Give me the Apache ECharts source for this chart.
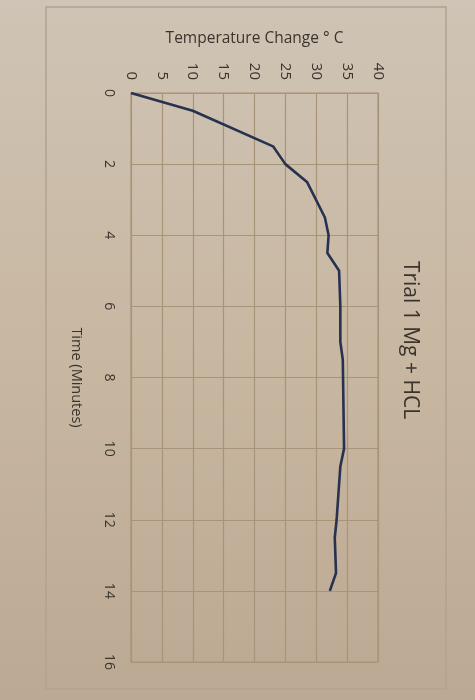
<!DOCTYPE html>
<html>
<head>
<meta charset="utf-8">
<script src="https://cdn.jsdelivr.net/npm/echarts@6/dist/echarts.min.js"></script>
<style>html,body{margin:0;padding:0;background:#c8b9a5;}#c{width:475px;height:700px;}</style>
</head>
<body>
<div id="c"></div>
<script>
// Data read from the (rotated) photo: time in minutes, temperature change in °C
const times = [0, 0.5, 1.5, 2, 2.5, 3.5, 4, 4.5, 5, 6, 7, 7.5, 10, 10.5, 12, 12.5, 13.5, 14];
const temps = [0, 10, 23, 25, 28.5, 31.4, 32, 31.8, 33.7, 33.9, 33.9, 34.3, 34.5, 33.9, 33.3, 33, 33.2, 32.2];
const chartTitle = 'Trial 1 Mg + HCL';
const tempAxisName = 'Temperature Change ° C';
const timeAxisName = 'Time (Minutes)';

const points = times.map((t, i) => [temps[i], t]);
const gridColor = '#a89479';
const textColor = '#3b342d';
const font = 'Open Sans';

const chart = echarts.init(document.getElementById('c'));
chart.setOption({
  backgroundColor: new echarts.graphic.LinearGradient(0, 0, 0, 1, [
    {offset: 0, color: '#cfc4b5'},
    {offset: 0.5, color: '#c8b7a1'},
    {offset: 1, color: '#bca993'}
  ]),
  animation: false,
  grid: {left: 131, right: 97, top: 93, bottom: 38, show: true, borderColor: gridColor, borderWidth: 1.2, backgroundColor: 'transparent'},
  xAxis: {
    type: 'value', position: 'top', min: 0, max: 40, interval: 5,
    name: tempAxisName, nameLocation: 'middle', nameGap: 46,
    nameTextStyle: {fontFamily: font, fontSize: 15.5, color: textColor},
    axisLine: {show: false}, axisTick: {show: false},
    axisLabel: {rotate: -90, fontFamily: font, fontSize: 15, color: textColor, margin: 13},
    splitLine: {show: true, lineStyle: {color: gridColor, width: 1.2}}
  },
  yAxis: {
    type: 'value', inverse: true, min: 0, max: 16, interval: 2,
    name: timeAxisName, nameLocation: 'middle', nameGap: 47, nameRotate: -90,
    nameTextStyle: {fontFamily: font, fontSize: 14.5, color: textColor},
    axisLine: {show: false}, axisTick: {show: false},
    axisLabel: {rotate: -90, fontFamily: font, fontSize: 14, color: textColor, margin: 15},
    splitLine: {show: true, lineStyle: {color: gridColor, width: 1.2}}
  },
  series: [{
    type: 'line', data: points, showSymbol: false, symbol: 'none',
    lineStyle: {color: '#26324f', width: 2.6}
  }],
  graphic: [
    {type: 'rect', shape: {x: 46, y: 7, width: 400, height: 682}, style: {fill: 'none', stroke: '#b1a28e', lineWidth: 1.5}, silent: true},
    {type: 'text', x: 410, y: 340, rotation: -Math.PI / 2,
     style: {text: chartTitle, fontFamily: font, fontSize: 21, fill: textColor, align: 'center', verticalAlign: 'middle'}}
  ]
});
</script>
</body>
</html>
